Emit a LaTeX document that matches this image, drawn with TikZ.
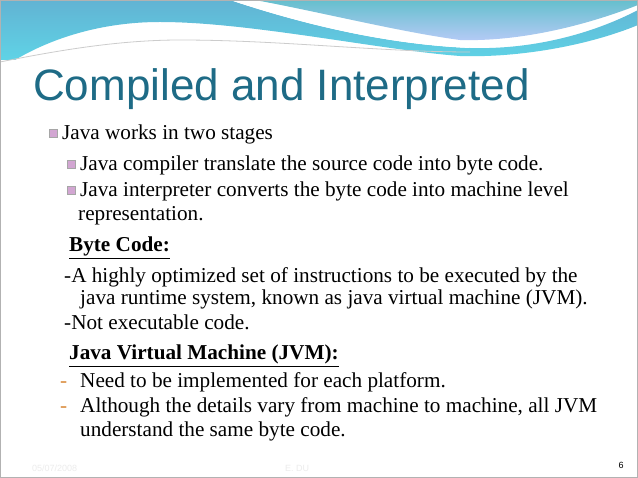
\documentclass[tikz,border=0pt]{standalone}
\usepackage{fontspec}
\setmainfont{Liberation Serif}
\newfontfamily\hel{Liberation Sans}
\definecolor{titlec}{HTML}{1E6B86}
\definecolor{waveA}{HTML}{62B3D3}
\definecolor{waveB}{HTML}{5FD3E6}
\definecolor{waveC}{HTML}{7ECFE0}
\definecolor{bul}{HTML}{D98A3A}
\tikzset{x=1pt,y=-1pt,
  body/.style={anchor=base west,inner sep=0pt,font=\fontsize{21.2}{24}\selectfont},
  icon/.style={draw=gray!70,fill=violet!35,minimum size=8pt,inner sep=0pt},
}
\begin{document}
\begin{tikzpicture}
\useasboundingbox (0,0) rectangle (638,478);
\fill[white] (0,0) rectangle (638,478);
% wave
\shade[top color=waveA,bottom color=waveB] (0,0) -- (230,0) .. controls (320,30) and (400,45) .. (470,48) .. controls (540,50) and (600,30) .. (638,10) -- (638,25) .. controls (590,45) and (520,58) .. (460,56) .. controls (380,50) and (250,22) .. (160,22) .. controls (90,22) and (40,45) .. (15,60) -- (0,60) -- cycle;
\fill[white] (230,0) .. controls (320,30) and (400,45) .. (470,48) -- (460,40) .. controls (400,32) and (320,12) .. (255,0) -- cycle;
\shade[top color=waveC!80!teal,bottom color=waveC!60!blue!40] (255,0) .. controls (320,12) and (400,32) .. (460,40) .. controls (530,42) and (600,20) .. (638,5) -- (638,0) -- cycle;
\draw[gray!40,line width=0.8] (0,62) .. controls (60,50) and (120,40) .. (180,40) .. controls (280,40) and (380,52) .. (470,52);
\draw[gray!60,line width=0.6] (0.3,0.3) rectangle (637.7,477.7);
% title
\node[anchor=base west,inner sep=0pt,text=titlec,font=\hel\fontsize{44}{48}\selectfont] (title) at (33,101) {Compiled and Interpreted};
% body
\node[icon] (i1) at (53,133) {};
\node[body] (t1) at (62,140) {Java works in two stages};
\node[icon] (i2) at (71,164) {};
\node[body] (t2) at (80,171) {Java compiler translate the source code into byte code.};
\node[icon] (i3) at (71,190) {};
\node[body] (t3) at (80,197) {Java interpreter converts the byte code into machine level};
\node[body] (t4) at (78,221) {representation.};
\node[body] (t5) at (69,252) {\textbf{\underline{Byte Code:}}};
\node[body] (t6) at (64,283) {-A highly optimized set of instructions to be executed by the};
\node[body] (t7) at (80,305) {java runtime system, known as java virtual machine (JVM).};
\node[body] (t8) at (64,330) {-Not executable code.};
\node[body] (t9) at (69,360) {\textbf{\underline{Java Virtual Machine (JVM):}}};
\node[body,text=bul] (d1) at (60,388) {-};
\node[body] (t10) at (80,388) {Need to be implemented for each platform.};
\node[body,text=bul] (d2) at (60,413) {-};
\node[body] (t11) at (80,413) {Although the details vary from machine to machine, all JVM};
\node[body] (t12) at (80,437) {understand the same byte code.};
% footer
\node[anchor=west,inner sep=0pt,text=gray!15,font=\hel\fontsize{9}{10}\selectfont] (f1) at (32,468) {05/07/2008};
\node[anchor=west,inner sep=0pt,text=gray!15,font=\hel\fontsize{9}{10}\selectfont] (f2) at (285,468) {E. DU};
\node[anchor=center,inner sep=0pt,font=\hel\fontsize{9}{10}\selectfont] (pg) at (621,465) {6};
\end{tikzpicture}
\end{document}
